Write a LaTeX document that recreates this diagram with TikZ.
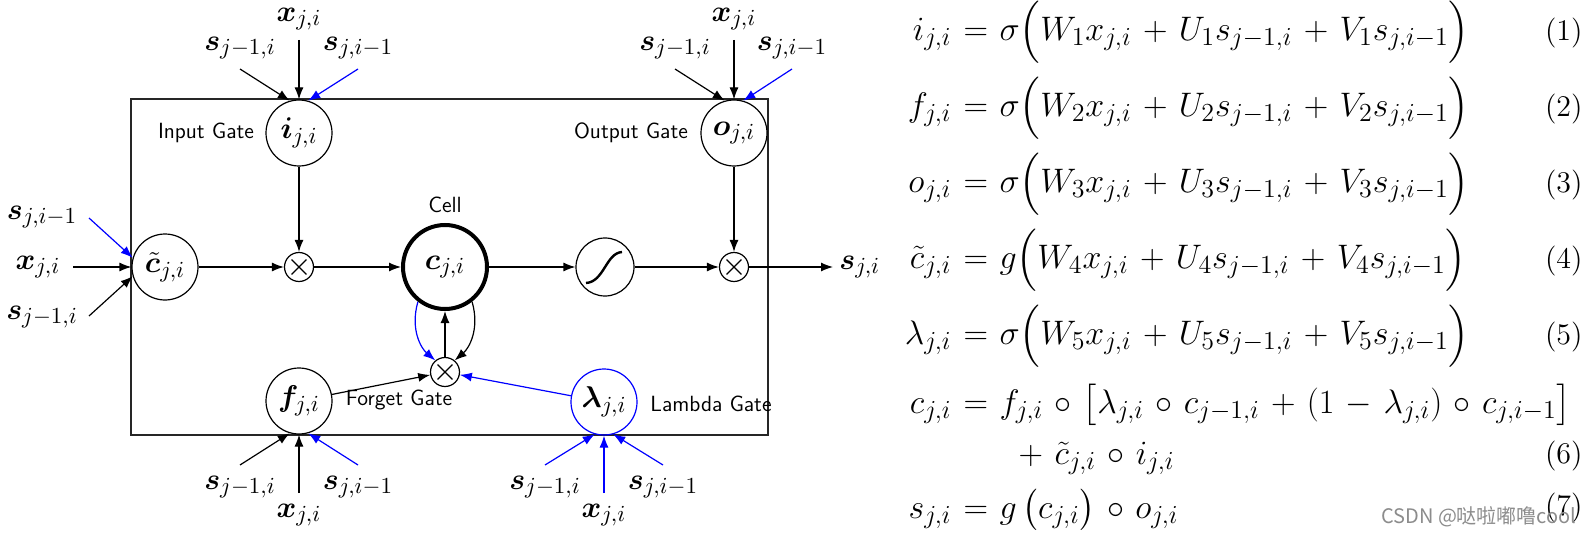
\RequirePackage{fix-cm}
\documentclass[tikz,border=0pt]{standalone}
\usepackage{amsmath,bm}
\usepackage{fontspec}
\newfontfamily\cjkfont{Noto Sans CJK SC}
\DeclareMathSizes{15}{15}{11.5}{8.5}
\DeclareMathSizes{17}{17}{13}{9.5}
\newcommand\myeqsetup{\fontsize{17}{20}\selectfont\medmuskip=6mu plus 2mu minus 2mu\relax\thickmuskip=6mu plus 2mu\relax}
\usetikzlibrary{arrows.meta}
\tikzset{
  gate/.style={circle,draw,minimum size=33pt,inner sep=0pt,line width=0.6pt,font=\fontsize{15}{18}\selectfont},
  cellnode/.style={circle,draw,minimum size=42pt,inner sep=0pt,line width=2pt,font=\fontsize{15}{18}\selectfont},
  mult/.style={circle,draw,minimum size=14.5pt,inner sep=0pt,line width=0.6pt,
    path picture={
      \draw[line width=0.55pt] ([shift={(-3.7pt,-3.7pt)}]path picture bounding box.center) -- ([shift={(3.7pt,3.7pt)}]path picture bounding box.center);
      \draw[line width=0.55pt] ([shift={(-3.7pt,3.7pt)}]path picture bounding box.center) -- ([shift={(3.7pt,-3.7pt)}]path picture bounding box.center);
    }},
  sigm/.style={circle,draw,minimum size=29pt,inner sep=0pt,line width=0.6pt},
  lbl/.style={inner sep=0pt,font=\fontsize{15}{18}\selectfont},
  sans/.style={inner sep=0pt,font=\sffamily\fontsize{11}{13}\selectfont},
  arr/.style={-{Latex[length=6pt,width=4.5pt]},line width=0.6pt},
  eq/.style={inner sep=0pt,font=\myeqsetup},
  eqnum/.style={inner sep=0pt,font=\fontsize{15}{18}\selectfont},
}
\begin{document}
\begin{tikzpicture}[x=0.5pt,y=-0.5pt]
\useasboundingbox (0,0) rectangle (1592,535);
% frame
\draw[line width=0.7pt,black!85] (131,99) rectangle (768,435);
% main nodes
\node[gate] (ig) at (299,133) {$\bm{i}_{j,i}$};
\node[gate] (og) at (734,133) {$\bm{o}_{j,i}$};
\node[gate] (ct) at (165,267) {$\bm{\tilde{c}}_{j,i}$};
\node[gate] (fg) at (299,401) {$\bm{f}_{j,i}$};
\node[gate,draw=blue] (lg) at (604,402) {$\bm{\lambda}_{j,i}$};
\node[cellnode] (cell) at (445,267) {$\bm{c}_{j,i}$};
\node[mult] (m1) at (299,267) {};
\node[mult] (m2) at (734,267) {};
\node[mult] (m3) at (445,372) {};
\node[sigm] (sg) at (605,267) {};
\draw[line width=1.2pt] ([shift={(-19,16)}]sg.center) .. controls ([shift={(-1,15)}]sg.center) and ([shift={(1,-14)}]sg.center) .. ([shift={(17,-15)}]sg.center);
% sans labels
\node[sans] (tin) at (206,133) {Input Gate};
\node[sans] (tout) at (631,133) {Output Gate};
\node[sans] (tcell) at (445,205) {Cell};
\node[sans] (tfor) at (399,400) {Forget Gate};
\node[sans] (tlam) at (711,404) {Lambda Gate};
% output label
\node[lbl,anchor=west,inner sep=3pt] (sout) at (833,267) {$\bm{s}_{j,i}$};
% input labels: input gate
\node[lbl] (ix) at (299,19) {$\bm{x}_{j,i}$};
\node[lbl] (is1) at (240,48) {$\bm{s}_{j-1,i}$};
\node[lbl] (is2) at (358,48) {$\bm{s}_{j,i-1}$};
\coordinate (ix0) at (299,40);
\coordinate (is10) at (240,69);
\coordinate (is20) at (358,69);
% output gate
\node[lbl] (ox) at (734,19) {$\bm{x}_{j,i}$};
\node[lbl] (os1) at (675,48) {$\bm{s}_{j-1,i}$};
\node[lbl] (os2) at (792,48) {$\bm{s}_{j,i-1}$};
\coordinate (ox0) at (734,40);
\coordinate (os10) at (675,69);
\coordinate (os20) at (792,69);
% c tilde
\node[lbl] (cs2) at (42,217) {$\bm{s}_{j,i-1}$};
\node[lbl] (cx) at (38,267) {$\bm{x}_{j,i}$};
\node[lbl] (cs1) at (42,317) {$\bm{s}_{j-1,i}$};
\coordinate (cs20) at (89,218);
\coordinate (cx0) at (73,267);
\coordinate (cs10) at (89,316);
% forget gate
\node[lbl] (fs1) at (240,487) {$\bm{s}_{j-1,i}$};
\node[lbl] (fx) at (299,515) {$\bm{x}_{j,i}$};
\node[lbl] (fs2) at (358,487) {$\bm{s}_{j,i-1}$};
\coordinate (fs10) at (240,465);
\coordinate (fx0) at (299,493);
\coordinate (fs20) at (358,465);
% lambda gate
\node[lbl] (ls1) at (545,487) {$\bm{s}_{j-1,i}$};
\node[lbl] (lx) at (604,515) {$\bm{x}_{j,i}$};
\node[lbl] (ls2) at (663,487) {$\bm{s}_{j,i-1}$};
\coordinate (ls10) at (545,465);
\coordinate (lx0) at (604,493);
\coordinate (ls20) at (663,465);
% connectors
\draw[arr] (ix0) -- (ig.north);
\draw[arr] (is10) -- (ig.106);
\draw[arr,blue] (is20) -- (ig.74);
\draw[arr] (ox0) -- (og.north);
\draw[arr] (os10) -- (og.106);
\draw[arr,blue] (os20) -- (og.74);
\draw[arr] (cx0) -- (ct.west);
\draw[arr,blue] (cs20) -- (ct.164);
\draw[arr] (cs10) -- (ct.196);
\draw[arr] (fs10) -- (fg.254);
\draw[arr] (fx0) -- (fg.south);
\draw[arr,blue] (fs20) -- (fg.286);
\draw[arr,blue] (ls10) -- (lg.254);
\draw[arr,blue] (lx0) -- (lg.south);
\draw[arr,blue] (ls20) -- (lg.286);
\draw[arr] (ct) -- (m1);
\draw[arr] (m1) -- (cell);
\draw[arr] (cell) -- (sg);
\draw[arr] (sg) -- (m2);
\draw[arr] (m2) -- (sout.west);
\draw[arr] (ig) -- (m1);
\draw[arr] (og) -- (m2);
\draw[arr] (m3) -- (cell);
\draw[arr] (fg) -- (m3);
\draw[arr,blue] (lg) -- (m3);
\draw[arr,blue] (cell.232) .. controls +(-8,28) and +(-14,-12) .. (m3.130);
\draw[arr] (cell.-52) .. controls +(8,28) and +(14,-12) .. (m3.50);
% equations
\node[eq,anchor=base east] (l1) at (952,40.5) {$i_{j,i}$};
\node[eq,anchor=base west] (r1) at (952,40.5) {${}=\sigma\Bigl(W_1x_{j,i}+U_1s_{j-1,i}+V_1s_{j,i-1}\Bigr)$};
\node[eqnum,anchor=base east] (n1) at (1583,40.5) {$(1)$};
\node[eq,anchor=base east] (l2) at (952,116.5) {$f_{j,i}$};
\node[eq,anchor=base west] (r2) at (952,116.5) {${}=\sigma\Bigl(W_2x_{j,i}+U_2s_{j-1,i}+V_2s_{j,i-1}\Bigr)$};
\node[eqnum,anchor=base east] (n2) at (1583,116.5) {$(2)$};
\node[eq,anchor=base east] (l3) at (952,192.5) {$o_{j,i}$};
\node[eq,anchor=base west] (r3) at (952,192.5) {${}=\sigma\Bigl(W_3x_{j,i}+U_3s_{j-1,i}+V_3s_{j,i-1}\Bigr)$};
\node[eqnum,anchor=base east] (n3) at (1583,192.5) {$(3)$};
\node[eq,anchor=base east] (l4) at (952,268.5) {$\tilde{c}_{j,i}$};
\node[eq,anchor=base west] (r4) at (952,268.5) {${}=g\Bigl(W_4x_{j,i}+U_4s_{j-1,i}+V_4s_{j,i-1}\Bigr)$};
\node[eqnum,anchor=base east] (n4) at (1583,268.5) {$(4)$};
\node[eq,anchor=base east] (l5) at (952,344.5) {$\lambda_{j,i}$};
\node[eq,anchor=base west] (r5) at (952,344.5) {${}=\sigma\Bigl(W_5x_{j,i}+U_5s_{j-1,i}+V_5s_{j,i-1}\Bigr)$};
\node[eqnum,anchor=base east] (n5) at (1583,344.5) {$(5)$};
\node[eq,anchor=base east] (l6) at (952,413.5) {$c_{j,i}$};
\node[eq,anchor=base west] (r6) at (952,413.5) {${}=f_{j,i}\circ\bigl[\lambda_{j,i}\circ c_{j-1,i}+(1-\lambda_{j,i})\circ c_{j,i-1}\bigr]$};
\node[eq,anchor=base west] (r6b) at (1007,464.5) {${}+\tilde{c}_{j,i}\circ i_{j,i}$};
\node[eqnum,anchor=base east] (n6) at (1583,463.5) {$(6)$};
\node[eq,anchor=base east] (l7) at (952,518.5) {$s_{j,i}$};
\node[eq,anchor=base west] (r7) at (952,518.5) {${}=g\left(c_{j,i}\right)\circ o_{j,i}$};
\node[eqnum,anchor=base east] (n7) at (1583,515.5) {$(7)$};
% watermark
\node[inner sep=0pt,anchor=east,text=black!45,font=\cjkfont\fontsize{10}{12}\selectfont] (wm) at (1577,517) {CSDN @哒啦嘟噜cool};
\end{tikzpicture}
\end{document}
